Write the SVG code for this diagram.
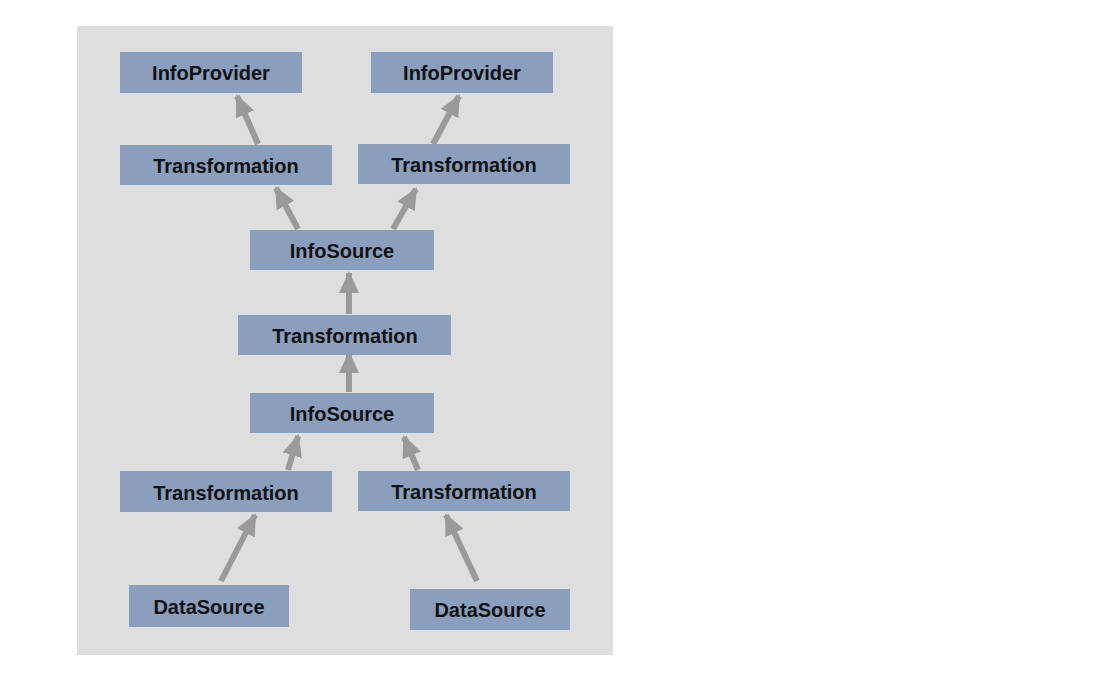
<svg xmlns="http://www.w3.org/2000/svg" width="1108" height="681" viewBox="0 0 1108 681">
<style>
.b{fill:#8a9fbd}
.t{font-family:"Liberation Sans",Arial,sans-serif;font-weight:bold;font-size:20px;fill:#111;text-anchor:middle}
.c line{stroke:#9a9a9a;stroke-width:6;marker-end:url(#a)}
</style>
<defs><marker id="a" markerUnits="userSpaceOnUse" markerWidth="22" markerHeight="20" refX="20" refY="10" orient="auto"><path d="M0,0 L22,10 L0,20 Z" fill="#9a9a9a"/></marker></defs>
<rect width="1108" height="681" fill="#fff"/>
<rect x="77" y="26" width="536" height="629" fill="#dedede"/>
<g class="c">
<line x1="258" y1="144" x2="237" y2="96"/>
<line x1="433" y1="144" x2="459" y2="96"/>
<line x1="298" y1="229" x2="276" y2="188"/>
<line x1="393" y1="229" x2="416" y2="189"/>
<line x1="349" y1="314" x2="349" y2="273"/>
<line x1="349" y1="392" x2="349" y2="353"/>
<line x1="288" y1="470" x2="298" y2="436"/>
<line x1="418" y1="470" x2="404" y2="437"/>
<line x1="221" y1="581" x2="255" y2="515"/>
<line x1="477" y1="581" x2="446" y2="515"/>
</g>
<g id="ip1"><rect class="b" x="120" y="52" width="182" height="41"/><text class="t" x="211" y="80">InfoProvider</text></g>
<g id="ip2"><rect class="b" x="371" y="52" width="182" height="41"/><text class="t" x="462" y="80">InfoProvider</text></g>
<g id="tr1"><rect class="b" x="120" y="145" width="212" height="40"/><text class="t" x="226" y="173">Transformation</text></g>
<g id="tr2"><rect class="b" x="358" y="144" width="212" height="40"/><text class="t" x="464" y="172">Transformation</text></g>
<g id="is1"><rect class="b" x="250" y="230" width="184" height="40"/><text class="t" x="342" y="258">InfoSource</text></g>
<g id="tr3"><rect class="b" x="238" y="315" width="213" height="40"/><text class="t" x="345" y="343">Transformation</text></g>
<g id="is2"><rect class="b" x="250" y="393" width="184" height="40"/><text class="t" x="342" y="421">InfoSource</text></g>
<g id="tr4"><rect class="b" x="120" y="471" width="212" height="41"/><text class="t" x="226" y="500">Transformation</text></g>
<g id="tr5"><rect class="b" x="358" y="471" width="212" height="40"/><text class="t" x="464" y="499">Transformation</text></g>
<g id="ds1"><rect class="b" x="129" y="585" width="160" height="42"/><text class="t" x="209" y="614">DataSource</text></g>
<g id="ds2"><rect class="b" x="410" y="589" width="160" height="41"/><text class="t" x="490" y="617">DataSource</text></g>
</svg>
